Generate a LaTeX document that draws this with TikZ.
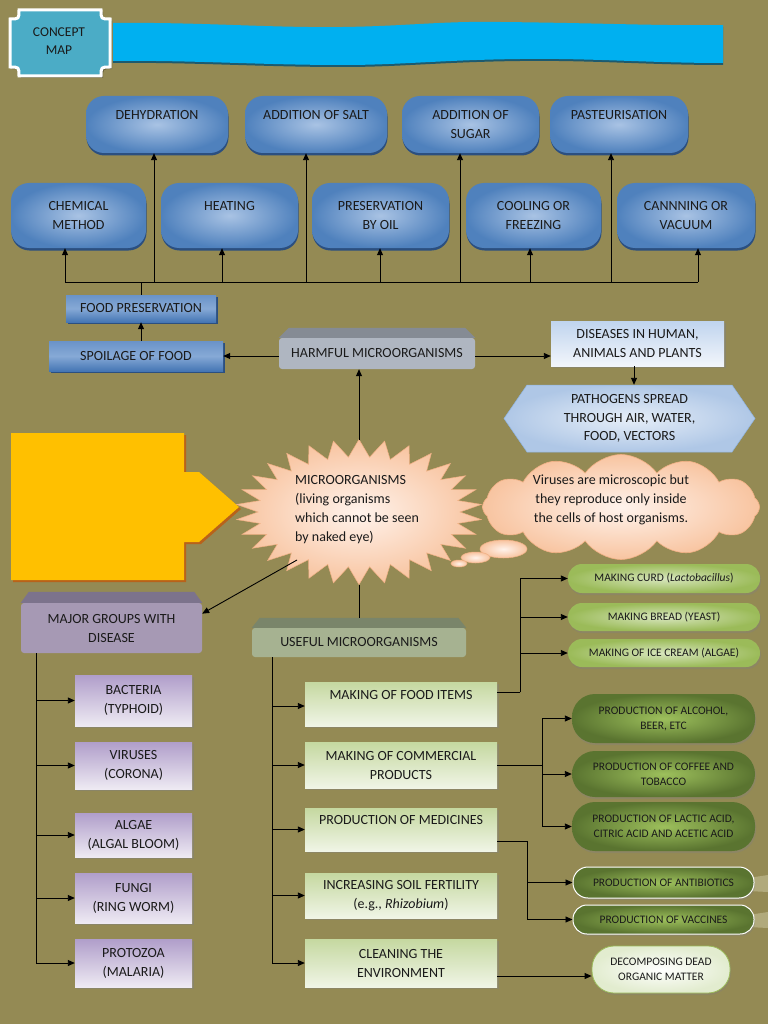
\documentclass[tikz,border=0pt]{standalone}
\usepackage{fontspec}
\setmainfont{Carlito}
\usetikzlibrary{arrows.meta,shapes.symbols,shapes.geometric,shadows}
\definecolor{bg}{HTML}{948A54}
\definecolor{bluemid}{HTML}{4F81BD}
\definecolor{bluelight}{HTML}{A9C3E4}
\definecolor{blueshadow}{HTML}{2B4F80}
\definecolor{brT}{HTML}{6A93C8}
\definecolor{brM}{HTML}{86A9D6}
\definecolor{brB}{HTML}{4576B4}
\definecolor{teal}{HTML}{4BACC6}
\definecolor{banner}{HTML}{00B0F0}
\definecolor{bannersh}{HTML}{1D5A6E}
\definecolor{harmF}{HTML}{AFB6C1}
\definecolor{harmT}{HTML}{858B94}
\definecolor{majF}{HTML}{A699B4}
\definecolor{majT}{HTML}{7C738C}
\definecolor{useF}{HTML}{A6B291}
\definecolor{useT}{HTML}{7A856A}
\definecolor{peachO}{HTML}{F8C4A0}
\definecolor{peachI}{HTML}{FFF3EC}
\definecolor{peachD}{HTML}{F1B084}
\definecolor{hexO}{HTML}{AFC7E6}
\definecolor{hexI}{HTML}{E6EEF8}
\definecolor{hexD}{HTML}{8EB4E3}
\definecolor{disT}{HTML}{C0D4EE}
\definecolor{disB}{HTML}{F2F6FB}
\definecolor{purT}{HTML}{B09ECA}
\definecolor{purB}{HTML}{EEEAF3}
\definecolor{grT}{HTML}{C5D8A0}
\definecolor{grB}{HTML}{F0F5E6}
\definecolor{lgO}{HTML}{9BBB59}
\definecolor{lgI}{HTML}{D8E6BE}
\definecolor{dgO}{HTML}{5A7430}
\definecolor{dgI}{HTML}{9DC05C}
\definecolor{decO}{HTML}{E2ECCF}
\definecolor{yel}{HTML}{FFC000}
\definecolor{yelsh}{HTML}{B8621A}
\definecolor{tailc}{HTML}{D6D2AE}
\definecolor{ink}{HTML}{1A1A1A}
\begin{document}
\begin{tikzpicture}[x=1pt,y=-1pt,text=ink,
  arr/.style={line width=0.9pt,-{Triangle[length=7pt,width=6pt]}},
  ln/.style={line width=0.9pt},
  fa/.style={font=\fontsize{14}{19}\selectfont},
  fb/.style={font=\fontsize{11.5}{15}\selectfont},
  bluecap/.style={fa,align=center,inner sep=0pt,rounded corners=18pt,inner color=bluelight,outer color=bluemid,
     drop shadow={shadow xshift=0.5pt,shadow yshift=-2.5pt,fill=blueshadow,opacity=1}},
  bluerect/.style={fa,align=center,inner sep=0pt,top color=brT,bottom color=brB,middle color=brM,
     drop shadow={shadow xshift=1.5pt,shadow yshift=-2pt,fill=blueshadow,opacity=1}},
  bevelbox/.style={fa,align=center,inner sep=0pt,rounded corners=3pt},
  purbox/.style={fa,align=center,inner sep=0pt,top color=purT,bottom color=purB,
     drop shadow={shadow xshift=1.5pt,shadow yshift=-1.5pt,opacity=0.45}},
  grbox/.style={fa,align=center,inner sep=0pt,top color=grT,bottom color=grB,
     drop shadow={shadow xshift=1.5pt,shadow yshift=-1.5pt,opacity=0.4}},
  lgcap/.style={fb,align=center,inner sep=0pt,rounded corners=14pt,inner color=lgI,outer color=lgO,
     drop shadow={shadow xshift=1pt,shadow yshift=-2pt,opacity=0.35}},
  dgcap/.style={fb,align=center,inner sep=0pt,rounded corners=23pt,inner color=dgI,outer color=dgO,
     drop shadow={shadow xshift=1pt,shadow yshift=-2pt,opacity=0.35}},
]
\useasboundingbox (0,0) rectangle (768,1024);
\fill[bg] (0,0) rectangle (768,1024);

% ---------- title ----------
\fill[black,opacity=0.3] (21,12) -- (103,12) .. controls (103,21) .. (112,21) -- (112,69) .. controls (103,69) .. (103,78) -- (21,78) .. controls (21,69) .. (12,69) -- (12,21) .. controls (21,21) .. (21,12) -- cycle;
\filldraw[fill=teal,draw=white,line width=3pt] (19,10) -- (101,10) .. controls (101,19) .. (110,19) -- (110,67) .. controls (101,67) .. (101,76) -- (19,76) .. controls (19,67) .. (10,67) -- (10,19) .. controls (19,19) .. (19,10) -- cycle;
\node[fa,align=center,font=\fontsize{13.5}{18}\selectfont] (title) at (59,41.5) {CONCEPT\\MAP};
\fill[bannersh] (113,25) .. controls (200,24) and (270,30) .. (343,29) .. controls (410,28) and (440,23) .. (500,24) .. controls (600,25) and (660,28) .. (723,27) -- (723,65) .. controls (650,65) and (590,60) .. (520,61) .. controls (440,62) and (400,67) .. (343,67) .. controls (260,67) and (190,62) .. (113,63) -- cycle;
\fill[banner] (113,23) .. controls (200,22) and (270,28) .. (343,27) .. controls (410,26) and (440,21) .. (500,22) .. controls (600,23) and (660,26) .. (723,25) -- (723,63) .. controls (650,63) and (590,58) .. (520,59) .. controls (440,60) and (400,65) .. (343,65) .. controls (260,65) and (190,60) .. (113,61) -- cycle;

% ---------- preservation methods ----------
\node[bluecap,minimum width=142pt,minimum height=57pt] (dehyd) at (157,124.5) {DEHYDRATION\\\phantom{H}};
\node[bluecap,minimum width=142pt,minimum height=57pt] (salt) at (316,124.5) {ADDITION OF SALT\\\phantom{H}};
\node[bluecap,minimum width=137pt,minimum height=57pt] (sugar) at (470.5,124.5) {ADDITION OF\\SUGAR};
\node[bluecap,minimum width=138pt,minimum height=57pt] (past) at (619,124.5) {PASTEURISATION\\\phantom{H}};
\node[bluecap,minimum width=135pt,minimum height=65pt] (chem) at (78.5,215.5) {CHEMICAL\\METHOD};
\node[bluecap,minimum width=137pt,minimum height=65pt] (heat) at (229.5,215.5) {HEATING\\\phantom{H}};
\node[bluecap,minimum width=137pt,minimum height=65pt] (oil) at (380.5,215.5) {PRESERVATION\\BY OIL};
\node[bluecap,minimum width=135pt,minimum height=65pt] (cool) at (533.5,215.5) {COOLING OR\\FREEZING};
\node[bluecap,minimum width=138pt,minimum height=65pt] (can) at (686,215.5) {CANNNING OR\\VACUUM};

\node[bluerect,minimum width=150pt,minimum height=27pt] (fp) at (141,308.5) {FOOD PRESERVATION};
\node[bluerect,minimum width=174pt,minimum height=30pt] (spoil) at (136,356) {SPOILAGE OF FOOD};

\draw[ln] ([xshift=-13.5pt]chem.south) ++(0,34) -- ++(633,0);
\draw[ln] (fp.north) -- ++(0,-13);
\draw[arr] ([xshift=-13.5pt]chem.south) ++(0,34) -- ([xshift=-13.5pt]chem.south);
\draw[arr] ([xshift=-7.5pt]heat.south) ++(0,34) -- ([xshift=-7.5pt]heat.south);
\draw[arr] ([xshift=-0.5pt]oil.south) ++(0,34) -- ([xshift=-0.5pt]oil.south);
\draw[arr] ([xshift=-3.5pt]cool.south) ++(0,34) -- ([xshift=-3.5pt]cool.south);
\draw[arr] ([xshift=12pt]can.south) ++(0,34) -- ([xshift=12pt]can.south);
\draw[arr] ([xshift=-3pt]dehyd.south) ++(0,129) -- ([xshift=-3pt]dehyd.south);
\draw[arr] ([xshift=-10pt]salt.south) ++(0,129) -- ([xshift=-10pt]salt.south);
\draw[arr] ([xshift=-10.5pt]sugar.south) ++(0,129) -- ([xshift=-10.5pt]sugar.south);
\draw[arr] ([xshift=-8pt]past.south) ++(0,129) -- ([xshift=-8pt]past.south);
\draw[arr] (spoil.north -| fp.south) -- (fp.south);

% ---------- harmful ----------
\node[bevelbox,fill=harmF,minimum width=196pt,minimum height=31pt] (harm) at (377,353.5) {HARMFUL MICROORGANISMS};
\fill[harmT] (harm.north west) -- ++(10,-10) -- ([xshift=-10pt,yshift=10pt]harm.north east) -- (harm.north east) -- cycle;
\node[fa,align=center,inner sep=0pt,minimum width=173pt,minimum height=45pt,top color=disT,bottom color=disB,
  drop shadow={shadow xshift=1.5pt,shadow yshift=-1.5pt,opacity=0.45}] (dis) at (637.5,343.5) {DISEASES IN HUMAN,\\ANIMALS AND PLANTS};
\shadedraw[inner color=hexI,outer color=hexO,draw=hexD,line width=0.5pt] (504,418.5) -- (527,385) -- (732,385) -- (755,418.5) -- (732,452) -- (527,452) -- cycle;
\node[fa,align=center,inner sep=0pt,minimum width=252pt,minimum height=67pt,font=\fontsize{14}{18.5}\selectfont] (patho) at (629.5,418.5) {PATHOGENS SPREAD\\THROUGH AIR, WATER,\\FOOD, VECTORS};
\draw[arr] (spoil.east -| harm.west) -- (spoil.east);
\draw[arr] (spoil.east -| harm.east) -- (spoil.east -| dis.west);
\draw[arr] ([xshift=-3.5pt]dis.south) -- ([xshift=-3.5pt]dis.south |- patho.north);

% ---------- yellow arrow ----------
\fill[yelsh] (13,435) -- (186,435) -- (186,474) -- (201,474) -- (241,509) -- (201,544) -- (186,544) -- (186,582) -- (13,582) -- cycle;
\fill[yel] (11,433) -- (184,433) -- (184,472) -- (199,472) -- (239,507) -- (199,542) -- (184,542) -- (184,580) -- (11,580) -- cycle;

% ---------- star ----------
\shadedraw[inner color=peachI,outer color=peachO,draw=peachD,line width=0.5pt]
  (460,512) \foreach \i in {1,...,59}{ -- ({359+ifthenelse(isodd(\i),123,101)*cos(6*\i)},{512+ifthenelse(isodd(\i),72.5,55)*sin(6*\i)}) } -- cycle;
\coordinate (startop) at (359,439.5);
\coordinate (starbot) at (359,584.5);
\coordinate (starsw) at (297,560);
\node[fa,align=left,anchor=west,inner sep=0pt] (micro) at (295,509.5) {MICROORGANISMS\\(living organisms\\which cannot be seen\\by naked eye)};
\draw[arr] (startop) -- (startop |- harm.south);

% ---------- cloud ----------
\node[cloud,cloud puffs=12,cloud puff arc=110,aspect=2.6,minimum width=277pt,minimum height=105pt,inner color=peachI,outer color=peachO,draw=peachD,line width=0.6pt] (cloud) at (621,507) {};
\shadedraw[inner color=peachI,outer color=peachO,draw=peachD,line width=0.5pt] (503.5,549) ellipse [x radius=23.5,y radius=9];
\shadedraw[inner color=peachI,outer color=peachO,draw=peachD,line width=0.5pt] (475.5,557.5) ellipse [x radius=14.5,y radius=5.5];
\shadedraw[inner color=peachI,outer color=peachO,draw=peachD,line width=0.5pt] (459,563.5) ellipse [x radius=8,y radius=3.5];
\node[fa,align=center,inner sep=0pt] (cloudtxt) at (611,500) {Viruses are microscopic but\\they reproduce only inside\\the cells of host organisms.};

% ---------- major groups ----------
\node[bevelbox,fill=majF,minimum width=181pt,minimum height=50pt] (major) at (111.5,628) {MAJOR GROUPS WITH\\DISEASE};
\fill[majT] (major.north west) -- ++(8,-11) -- ([xshift=-8pt,yshift=11pt]major.north east) -- (major.north east) -- cycle;
\draw[arr] (starsw) -- (major.9);

\node[purbox,minimum width=117pt,minimum height=51pt] (bact) at (133.5,700.5) {BACTERIA\\(TYPHOID)};
\node[purbox,minimum width=117pt,minimum height=47pt] (vir) at (133.5,765.5) {VIRUSES\\(CORONA)};
\node[purbox,minimum width=117pt,minimum height=44pt] (alg) at (133.5,835) {ALGAE\\(ALGAL BLOOM)};
\node[purbox,minimum width=117pt,minimum height=50pt] (fun) at (133.5,898) {FUNGI\\(RING WORM)};
\node[purbox,minimum width=117pt,minimum height=48pt] (pro) at (133.5,963) {PROTOZOA\\(MALARIA)};
\draw[arr] ([xshift=16pt]major.south west) |- (bact.west);
\draw[arr] ([xshift=16pt]major.south west) |- (vir.west);
\draw[arr] ([xshift=16pt]major.south west) |- (alg.west);
\draw[arr] ([xshift=16pt]major.south west) |- (fun.west);
\draw[arr] ([xshift=16pt]major.south west) |- (pro.west);

% ---------- useful ----------
\node[bevelbox,fill=useF,minimum width=214pt,minimum height=29pt] (useful) at (359,642.5) {USEFUL MICROORGANISMS};
\fill[useT] (useful.north west) -- ++(8,-10) -- ([xshift=-8pt,yshift=10pt]useful.north east) -- (useful.north east) -- cycle;
\coordinate (usetop) at ([yshift=10pt]useful.north);
\draw[ln] (starbot) -- (starbot |- usetop);

\node[grbox,minimum width=192pt,minimum height=44pt] (food) at (401,704) {MAKING OF FOOD ITEMS\\\phantom{H}};
\node[grbox,minimum width=192pt,minimum height=46pt] (comm) at (401,765) {MAKING OF COMMERCIAL\\PRODUCTS};
\node[grbox,minimum width=192pt,minimum height=43pt] (med) at (401,829.5) {PRODUCTION OF MEDICINES\\\phantom{H}};
\node[grbox,minimum width=192pt,minimum height=45pt] (soil) at (401,895.5) {INCREASING SOIL FERTILITY\\(e.g., \textit{Rhizobium})};
\node[grbox,minimum width=192pt,minimum height=48pt] (clean) at (401,963) {CLEANING THE\\ENVIRONMENT};
\draw[arr] ([xshift=21pt]useful.south west) |- ([yshift=-2pt]food.west);
\draw[arr] ([xshift=21pt]useful.south west) |- (comm.west);
\draw[arr] ([xshift=21pt]useful.south west) |- (med.west);
\draw[arr] ([xshift=21pt]useful.south west) |- (soil.west);
\draw[arr] ([xshift=21pt]useful.south west) |- (clean.west);

\node[lgcap,minimum width=192pt,minimum height=29pt] (curd) at (664,578.5) {MAKING CURD (\textit{Lactobacillus})};
\node[lgcap,minimum width=192pt,minimum height=28pt] (bread) at (664,617) {MAKING BREAD (YEAST)};
\node[lgcap,minimum width=192pt,minimum height=28pt] (ice) at (664,653) {MAKING OF ICE CREAM (ALGAE)};
\draw[ln] ([yshift=12pt]food.east) -- ++(23,0) coordinate (fj);
\draw[arr] (fj) |- (curd.west);
\draw[arr] (fj) |- (bread.west);
\draw[arr] (fj) |- (ice.west);

\node[dgcap,minimum width=183pt,minimum height=49pt] (alc) at (663.5,718.5) {PRODUCTION OF ALCOHOL,\\BEER, ETC};
\node[dgcap,minimum width=183pt,minimum height=46pt] (cof) at (663.5,774) {PRODUCTION OF COFFEE AND\\TOBACCO};
\node[dgcap,minimum width=183pt,minimum height=49pt] (lac) at (663.5,826.5) {PRODUCTION OF LACTIC ACID,\\CITRIC ACID AND ACETIC ACID};
\draw[ln] (comm.east) -- ++(45,0) coordinate (cj);
\draw[arr] (cj) |- (alc.west);
\draw[arr] (cj) |- (cof.west);
\draw[arr] (cj) |- (lac.west);

\fill[tailc,opacity=0.45] (748,878) .. controls (758,876) .. (768,875) -- (768,892) .. controls (758,892) .. (748,891) -- cycle;
\fill[tailc,opacity=0.45] (748,915) .. controls (758,913) .. (768,912) -- (768,928) .. controls (758,928) .. (748,927) -- cycle;
\node[dgcap,rounded corners=15pt,draw=white,line width=1pt,minimum width=181pt,minimum height=31pt] (anti) at (663.5,882.5) {PRODUCTION OF ANTIBIOTICS};
\node[dgcap,rounded corners=14pt,draw=white,line width=1pt,minimum width=181pt,minimum height=29pt] (vac) at (663.5,919.5) {PRODUCTION OF VACCINES};
\draw[ln] ([yshift=-11.5pt]med.east) -- ++(30,0) coordinate (mj);
\draw[arr] (mj) |- (anti.west);
\draw[arr] (mj) |- (vac.west);

\node[fb,align=center,inner sep=0pt,rounded corners=22pt,inner color=white,outer color=decO,draw=lgO,line width=0.8pt,
  minimum width=138pt,minimum height=47pt,drop shadow={shadow xshift=1pt,shadow yshift=-2pt,opacity=0.3}] (decomp) at (661,969.5) {DECOMPOSING DEAD\\ORGANIC MATTER};
\draw[arr] ([yshift=-13pt]clean.east) -- ([yshift=-13pt]clean.east -| decomp.west);
\end{tikzpicture}
\end{document}
